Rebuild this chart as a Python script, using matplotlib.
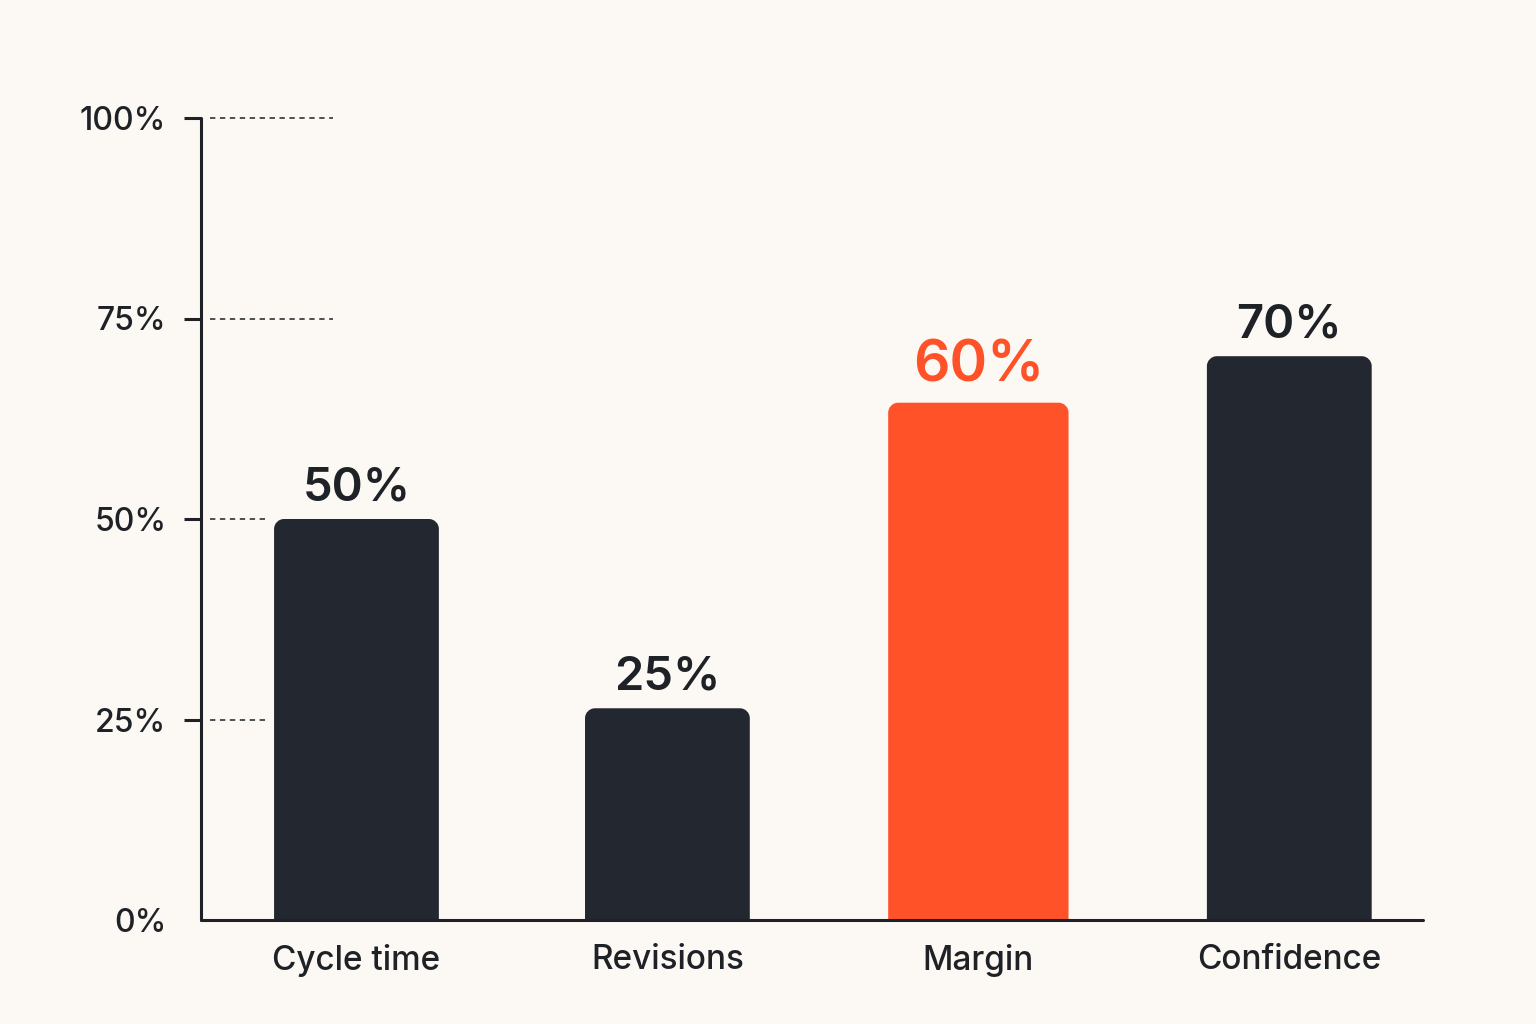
import numpy as np
import matplotlib.pyplot as plt
from matplotlib.path import Path
from matplotlib.patches import PathPatch

# data
categories = ["Cycle time", "Revisions", "Margin", "Confidence"]
bar_heights = [50, 26.4, 64.5, 70.3]          # drawn heights (% of axis)
value_labels = ["50%", "25%", "60%", "70%"]
y_ticks = [0, 25, 50, 75, 100]
y_tick_labels = ["0%", "25%", "50%", "75%", "100%"]

BG = "#FCF8F3"
DARK = "#23272F"
ORANGE = "#FF5229"
TEXT = "#1E2227"
highlight = "Margin"

plt.rcParams["font.family"] = ["Inter", "DejaVu Sans"]

fig = plt.figure(figsize=(15.36, 10.24), dpi=100, facecolor=BG)
ax = fig.add_axes([201 / 1536, 1 - 920 / 1024, 1222 / 1536, 802 / 1024])
ax.set_facecolor(BG)

x = np.arange(len(categories))
colors = [ORANGE if c == highlight else DARK for c in categories]
widths = [0.58 if c == highlight else 0.53 for c in categories]
bars = ax.bar(x, bar_heights, width=widths, color=colors)

ax.set_xlim(-0.5, 3.43)
ax.set_ylim(0, 100)

# swap plain bars for ones with rounded top corners
x_per_px = (3.43 + 0.5) / 1222
y_per_px = 100 / 802
radius_px = 10
k = 0.5523
for b, c in zip(bars, colors):
    x0, w, h = b.get_x(), b.get_width(), b.get_height()
    x1 = x0 + w
    rx, ry = radius_px * x_per_px, radius_px * y_per_px
    verts = [(x0, 0), (x0, h - ry),
             (x0, h - ry + k * ry), (x0 + rx - k * rx, h), (x0 + rx, h),
             (x1 - rx, h),
             (x1 - rx + k * rx, h), (x1, h - ry + k * ry), (x1, h - ry),
             (x1, 0), (x0, 0)]
    codes = [Path.MOVETO, Path.LINETO,
             Path.CURVE4, Path.CURVE4, Path.CURVE4,
             Path.LINETO,
             Path.CURVE4, Path.CURVE4, Path.CURVE4,
             Path.LINETO, Path.CLOSEPOLY]
    b.set_visible(False)
    ax.add_patch(PathPatch(Path(verts, codes), facecolor=c,
                           edgecolor="none", zorder=2))

# value labels above bars
for xi, h, lab, c in zip(x, bar_heights, value_labels, colors):
    big = c == ORANGE
    ax.text(xi, h + (2.6 if big else 2.3), lab, ha="center", va="baseline",
            fontsize=41 if big else 34, fontweight="semibold",
            color=ORANGE if big else TEXT, zorder=3)

# short dashed guides next to the axis
guide_ends = {100: -0.076, 75: -0.076, 50: -0.294, 25: -0.294}
for yv, xe in guide_ends.items():
    ax.plot([-0.47, xe], [yv, yv], color=TEXT, lw=1.1,
            dashes=(3.5, 3), zorder=1, clip_on=False)

for s in ["top", "right"]:
    ax.spines[s].set_visible(False)
for s in ["left", "bottom"]:
    ax.spines[s].set_color(TEXT)
    ax.spines[s].set_linewidth(2.2)
    ax.spines[s].set_capstyle("round")

ax.set_yticks(y_ticks)
ax.set_yticklabels(y_tick_labels)
ax.tick_params(axis="y", length=12, width=2.2, color=TEXT, pad=13,
               labelsize=23, labelcolor=TEXT)
for t in ax.get_yticklabels():
    t.set_fontweight("medium")
ax.yaxis.get_major_ticks()[0].tick1line.set_visible(False)

ax.set_xticks(x)
ax.set_xticklabels(categories)
ax.tick_params(axis="x", length=0, pad=17, labelsize=24, labelcolor=TEXT)
for t in ax.get_xticklabels():
    t.set_fontweight("medium")

fig.savefig("out.png", dpi=100, facecolor=BG)
